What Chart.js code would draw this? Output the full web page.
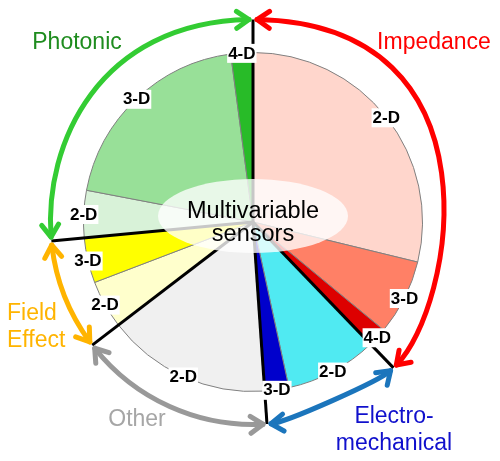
<!DOCTYPE html>
<html>
<head>
<meta charset="utf-8">
<script src="https://cdn.jsdelivr.net/npm/chart.js@4.4.0/dist/chart.umd.min.js"></script>
<style>
  html, body { margin: 0; padding: 0; background: #fff; }
  #wrap { width: 500px; height: 461px; }
</style>
</head>
<body>
<div id="wrap"><canvas id="pieChart" width="500" height="461"></canvas></div>
<script>
// slices, clockwise from 12 o'clock (share of sensors, %)
const sliceLabels = ['2-D', '3-D', '4-D', '2-D', '3-D', '2-D', '2-D', '3-D', '2-D', '3-D', '4-D'];
const sliceShares = [28.8, 7.2, 1.8, 8.8, 2.3, 15.7, 4.6, 4.3, 4.5, 19.9, 2.1];
const sliceGroup = [0, 0, 0, 1, 1, 2, 3, 3, 4, 4, 4];
const sliceColors = ['#ffd6cc', '#ff8066', '#dd0000', '#50eaf2', '#0000cc', '#f0f0f0',
                     '#ffffcc', '#ffff00', '#d8f2d8', '#98e098', '#28bb28'];

// sensor groups
const groupNames = [['Impedance'], ['Electro-', 'mechanical'], ['Other'], ['Field', 'Effect'], ['Photonic']];
const groupTextColors = ['#ff0000', '#1010cc', '#a6a6a6', '#ffb400', '#1e8c1e'];
const groupArrowColors = ['#ff0000', '#1b75bc', '#999999', '#ffb400', '#33cc33'];

const centerText = ['Multivariable', 'sensors'];

const FONT = "'Liberation Sans', Arial, sans-serif";

// draws group arrows, separators, slice tags and the centre label
const sensorDecor = {
    id: 'sensorDecor',
    afterDatasetsDraw(chart, args, opts) {
        const ctx = chart.ctx;
        const arcs = chart.getDatasetMeta(0).data;
        const cx = arcs[0].x, cy = arcs[0].y;
        const R = arcs[0].outerRadius;
        const Rg = R + opts.arrowGap;

        // angular span of every group
        const spans = groupNames.map(() => ({ start: null, end: null }));
        arcs.forEach((a, i) => {
            const g = sliceGroup[i];
            if (spans[g].start === null) spans[g].start = a.startAngle;
            spans[g].end = a.endAngle;
        });

        ctx.save();

        // black separators between groups
        ctx.strokeStyle = '#000';
        ctx.lineWidth = 3;
        spans.forEach(s => {
            ctx.beginPath();
            ctx.moveTo(cx, cy);
            ctx.lineTo(cx + Rg * Math.cos(s.start), cy + Rg * Math.sin(s.start));
            ctx.stroke();
        });

        // double headed curved arrows
        ctx.lineCap = 'round';
        ctx.lineJoin = 'round';
        ctx.lineWidth = 5;
        spans.forEach((s, g) => {
            const gap = 4 / Rg;
            const a0 = s.start + gap, a1 = s.end - gap;
            const k = 4 / 3 * Math.tan((a1 - a0) / 4) * Rg;
            const [b1, b2] = opts.arrowBend[g];
            const p0 = [cx + Rg * Math.cos(a0), cy + Rg * Math.sin(a0)];
            const p3 = [cx + Rg * Math.cos(a1), cy + Rg * Math.sin(a1)];
            const p1 = [p0[0] - Math.sin(a0) * k * b1, p0[1] + Math.cos(a0) * k * b1];
            const p2 = [p3[0] + Math.sin(a1) * k * b2, p3[1] - Math.cos(a1) * k * b2];
            ctx.strokeStyle = groupArrowColors[g];
            ctx.beginPath();
            ctx.moveTo(p0[0], p0[1]);
            ctx.bezierCurveTo(p1[0], p1[1], p2[0], p2[1], p3[0], p3[1]);
            ctx.stroke();
            [[p0, p1], [p3, p2]].forEach(([tip, ctrl]) => {
                const ang = Math.atan2(ctrl[1] - tip[1], ctrl[0] - tip[0]);
                const L = 15, w = 0.6;
                ctx.beginPath();
                ctx.moveTo(tip[0] + L * Math.cos(ang - w), tip[1] + L * Math.sin(ang - w));
                ctx.lineTo(tip[0], tip[1]);
                ctx.lineTo(tip[0] + L * Math.cos(ang + w), tip[1] + L * Math.sin(ang + w));
                ctx.stroke();
            });
        });

        // translucent centre ellipse + title
        ctx.fillStyle = 'rgba(255,255,255,0.78)';
        ctx.beginPath();
        ctx.ellipse(cx, cy - 6, 95, 37, 0, 0, Math.PI * 2);
        ctx.fill();
        ctx.fillStyle = '#000';
        ctx.font = '23.5px ' + FONT;
        ctx.textAlign = 'center';
        ctx.textBaseline = 'alphabetic';
        ctx.fillText(centerText[0], cx, cy - 4);
        ctx.fillText(centerText[1], cx, cy + 19);

        // slice tags on the rim
        ctx.font = 'bold 17px ' + FONT;
        ctx.textBaseline = 'middle';
        arcs.forEach((a, i) => {
            const mid = (a.startAngle + a.endAngle) / 2;
            const x = cx + R * Math.cos(mid), y = cy + R * Math.sin(mid);
            const w = ctx.measureText(sliceLabels[i]).width;
            ctx.fillStyle = '#fff';
            ctx.fillRect(x - w / 2 - 1, y - 9, w + 2, 19);
            ctx.fillStyle = '#000';
            ctx.fillText(sliceLabels[i], x, y + 1);
        });

        // group names
        ctx.font = '23px ' + FONT;
        groupNames.forEach((lines, g) => {
            const p = opts.groupLabelPos[g];
            ctx.fillStyle = groupTextColors[g];
            ctx.textAlign = p.align;
            lines.forEach((t, j) => ctx.fillText(t, p.x, p.y + j * 27));
        });

        ctx.restore();
    }
};

new Chart(document.getElementById('pieChart'), {
    type: 'pie',
    data: {
        labels: sliceLabels,
        datasets: [{
            data: sliceShares,
            backgroundColor: sliceColors,
            borderColor: '#808080',
            borderWidth: 1
        }]
    },
    options: {
        responsive: false,
        animation: false,
        layout: { padding: { left: 83, right: 77, top: 52, bottom: 69 } },
        plugins: {
            legend: { display: false },
            tooltip: { enabled: false },
            sensorDecor: {
                arrowGap: 33,
                arrowBend: [[1.4, 0.45], [0.35, 0.35], [1, 1], [1, 1], [0.8, 1.3]],
                groupLabelPos: [
                    { x: 434, y: 43, align: 'center' },
                    { x: 394, y: 417, align: 'center' },
                    { x: 137, y: 420, align: 'center' },
                    { x: 7, y: 314, align: 'left' },
                    { x: 77, y: 43, align: 'center' }
                ]
            }
        }
    },
    plugins: [sensorDecor]
});
</script>
</body>
</html>
